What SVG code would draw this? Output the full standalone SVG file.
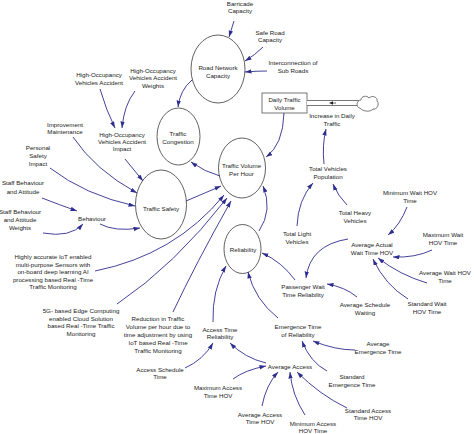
<svg xmlns="http://www.w3.org/2000/svg" width="474" height="434" viewBox="0 0 474 434">
<style>
text{font-family:"Liberation Sans",Arial,sans-serif;font-size:6.2px;fill:#222;text-anchor:middle}
.n{fill:#fff;stroke:#3a3a3a;stroke-width:0.8}
.c path{fill:none;stroke:#2e2e8e;stroke-width:0.9;marker-end:url(#ah)}
.p{stroke:#555;stroke-width:0.8}
</style>
<defs>
<marker id="ah" markerUnits="userSpaceOnUse" markerWidth="8" markerHeight="6" refX="6.5" refY="2.2" orient="auto">
<path d="M0,0 L6.5,2.2 L0,4.4 Z" fill="#2e2e8e"/>
</marker>
</defs>
<rect width="474" height="434" fill="#fff"/>

<g id="rnc"><ellipse class="n" cx="218" cy="69" rx="27" ry="34"/><text x="218" y="70.2">Road Network</text><text x="218" y="78.2">Capacity</text></g>
<g id="congestion"><ellipse class="n" cx="178.5" cy="136.5" rx="21.5" ry="28.5"/><text x="178" y="136.2">Traffic</text><text x="178" y="144.2">Congestion</text></g>
<g id="tvph"><ellipse class="n" cx="242" cy="168" rx="23.5" ry="30"/><text x="241.5" y="168.2">Traffic Volume</text><text x="241.5" y="176.2">Per Hour</text></g>
<g id="safety"><ellipse class="n" cx="161" cy="204.5" rx="25.5" ry="34.5"/><text x="161" y="211.2">Traffic Safety</text></g>
<g id="reliability"><ellipse class="n" cx="242.5" cy="249" rx="18.5" ry="24.5"/><text x="243" y="252.2">Reliability</text></g>
<g id="daily"><rect x="262" y="93" width="45" height="20" fill="#fff" stroke="#555" stroke-width="0.8"/><text x="284.5" y="102.2">Daily Traffic</text><text x="284.5" y="110.2">Volume</text></g>
<g id="increase">
<rect x="307" y="100.5" width="52" height="5" fill="#fff"/>
<line class="p" x1="307" y1="100.5" x2="359" y2="100.5"/><line class="p" x1="307" y1="105.5" x2="359" y2="105.5"/>
<path d="M329,103 L333,101.3 L333,104.7 Z" fill="#222"/><line x1="333" y1="103" x2="336" y2="103" stroke="#222" stroke-width="0.7"/>
<path d="M360,108 C356,108 356,100 361,100 C361,96 367,95 369,98 C372,95 378,97 377,101 C380,104 377,110 373,109 C371,112 363,112 360,108 Z" fill="#fff" stroke="#555" stroke-width="0.8"/>
<text x="332" y="118.2">Increase in Daily</text><text x="332" y="126.2">Traffic</text></g>

<g id="barricade"><text x="240" y="5.7">Barricade</text><text x="240" y="13.2">Capacity</text></g>
<g id="saferoad"><text x="270" y="35.2">Safe Road</text><text x="270" y="42.2">Capacity</text></g>
<g id="interconnection"><text x="293" y="65.2">Interconnection of</text><text x="293" y="73.2">Sub Roads</text></g>
<g id="hovaccident"><text x="99" y="77.2">High-Occupancy</text><text x="99" y="85.2">Vehicles Accident</text></g>
<g id="hovweights"><text x="153" y="73.2">High-Occupancy</text><text x="153" y="80.2">Vehicles Accident</text><text x="153" y="88.2">Weights</text></g>
<g id="hovimpact"><text x="122" y="137.2">High-Occupancy</text><text x="122" y="144.2">Vehicles Accident</text><text x="122" y="151.2">Impact</text></g>
<g id="improvement"><text x="65" y="127.2">Improvement</text><text x="65" y="134.2">Maintenance</text></g>
<g id="personal"><text x="38" y="150.2">Personal</text><text x="38" y="158.2">Safety</text><text x="38" y="166.2">Impact</text></g>
<g id="staff"><text x="23" y="185.2">Staff Behaviour</text><text x="23" y="194.2">and Attitude</text></g>
<g id="staffweights"><text x="20" y="214.2">Staff Behaviour</text><text x="20" y="222.2">and Attitude</text><text x="20" y="230.2">Weights</text></g>
<g id="behaviour"><text x="92" y="221.2">Behaviour</text></g>
<g id="iot"><text x="53" y="259.2">Highly accurate IoT enabled</text><text x="53" y="266.7">multi-purpose Sensors with</text><text x="53" y="274.2">on-board deep learning AI</text><text x="53" y="281.7">processing based Real -Time</text><text x="53" y="289.2">Traffic Monitoring</text></g>
<g id="edge5g"><text x="81" y="313.2">5G- based Edge Computing</text><text x="81" y="320.7">enabled Cloud Solution</text><text x="81" y="328.2">based Real -Time Traffic</text><text x="81" y="335.7">Monitoring</text></g>
<g id="reduction"><text x="158" y="321.2">Reduction in Traffic</text><text x="158" y="329.2">Volume per hour due to</text><text x="158" y="337.2">time adjustment by using</text><text x="158" y="345.2">IoT based Real -Time</text><text x="158" y="352.7">Traffic Monitoring</text></g>
<g id="tvp"><text x="328" y="171.2">Total Vehicles</text><text x="328" y="179.2">Population</text></g>
<g id="light"><text x="297" y="236.2">Total Light</text><text x="297" y="244.2">Vehicles</text></g>
<g id="heavy"><text x="355" y="215.2">Total Heavy</text><text x="355" y="223.2">Vehicles</text></g>
<g id="minwait"><text x="410" y="195.2">Minimum Wait HOV</text><text x="410" y="203.2">Time</text></g>
<g id="maxwait"><text x="443" y="237.2">Maximum Wait</text><text x="443" y="245.2">HOV Time</text></g>
<g id="avgactual"><text x="372" y="247.2">Average Actual</text><text x="372" y="255.2">Wait Time HOV</text></g>
<g id="avgwait"><text x="445" y="275.2">Average Wait HOV</text><text x="445" y="283.2">Time</text></g>
<g id="stdwait"><text x="427" y="306.2">Standard Wait</text><text x="427" y="314.2">HOV Time</text></g>
<g id="passenger"><text x="303" y="289.2">Passenger Wait</text><text x="303" y="297.2">Time Reliability</text></g>
<g id="avgsched"><text x="365" y="307.2">Average Schedule</text><text x="365" y="315.2">Waiting</text></g>
<g id="emergence"><text x="298" y="329.2">Emergence Time</text><text x="298" y="337.2">of Reliability</text></g>
<g id="avgemerg"><text x="378" y="346.2">Average</text><text x="378" y="354.2">Emergence Time</text></g>
<g id="stdemerg"><text x="352" y="379.2">Standard</text><text x="352" y="387.2">Emergence Time</text></g>
<g id="atr"><text x="220" y="332.2">Access Time</text><text x="220" y="339.2">Reliability</text></g>
<g id="avgaccess"><text x="290" y="369.2">Average Access</text></g>
<g id="accsched"><text x="160" y="372.2">Access Schedule</text><text x="160" y="379.2">Time</text></g>
<g id="maxaccess"><text x="218" y="390.2">Maximum Access</text><text x="218" y="398.2">Time HOV</text></g>
<g id="stdaccess"><text x="368" y="413.2">Standard Access</text><text x="368" y="420.2">Time HOV</text></g>
<g id="avgaccesshov"><text x="260" y="417.2">Average Access</text><text x="260" y="424.2">Time HOV</text></g>
<g id="minaccess"><text x="313" y="426.2">Minimum Access</text><text x="313" y="433.2">HOV Time</text></g>

<g id="connectors" class="c">
<path d="M234,21 L229,37"/>
<path d="M263,47 Q255,55 245,61"/>
<path d="M267,71 Q256,71 245,72"/>
<path d="M192,80 Q180,90 178,107"/>
<path d="M100,89 Q106,110 115,128"/>
<path d="M135,91 Q124,105 122,128"/>
<path d="M125,159 Q134,170 143,181"/>
<path d="M73,137 Q95,170 137,193"/>
<path d="M50,168 Q85,195 135,206"/>
<path d="M42,198 Q60,205 77,211"/>
<path d="M43,233 Q70,238 83,224"/>
<path d="M100,224 Q115,232 140,228"/>
<path d="M186,201 Q205,193 221,186"/>
<path d="M95,271 Q175,255 224,195"/>
<path d="M117,304 Q175,265 227,198"/>
<path d="M173,312 Q195,265 231,201"/>
<path d="M284,113 Q283,145 266,157"/>
<path d="M259,231 Q273,210 263,186"/>
<path d="M220,176 Q205,172 191,162"/>
<path d="M324,164 Q322,145 326,129"/>
<path d="M297,226 Q298,200 313,183"/>
<path d="M347,205 Q338,196 333,184"/>
<path d="M407,207 Q400,225 388,235"/>
<path d="M432,250 Q415,258 393,257"/>
<path d="M427,283 Q400,275 378,258"/>
<path d="M408,299 Q385,285 373,259"/>
<path d="M348,239 Q310,245 306,278"/>
<path d="M295,280 Q282,262 262,253"/>
<path d="M357,297 Q345,287 327,284"/>
<path d="M278,318 Q255,300 248,272"/>
<path d="M355,350 Q335,350 313,341"/>
<path d="M327,371 Q310,362 302,341"/>
<path d="M213,322 Q212,290 226,266"/>
<path d="M185,368 Q203,360 213,343"/>
<path d="M266,363 Q245,358 230,343"/>
<path d="M233,379 Q245,370 266,366"/>
<path d="M262,406 Q266,385 278,372"/>
<path d="M305,415 Q292,395 290,372"/>
<path d="M347,408 Q320,395 297,372"/>
</g>
</svg>
